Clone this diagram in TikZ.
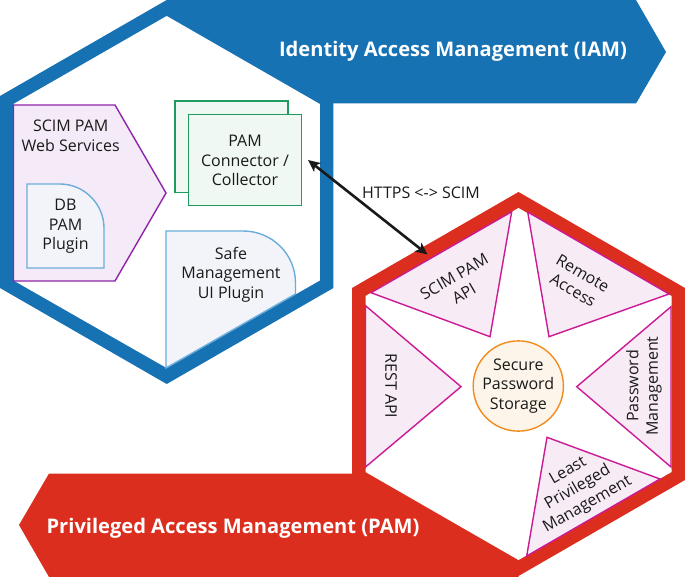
\documentclass[tikz,border=0pt]{standalone}
\usepackage{fontspec}
\setmainfont{Open Sans}
\definecolor{iamblue}{HTML}{1772B4}
\definecolor{pamred}{HTML}{DC2E1F}
\definecolor{magline}{HTML}{CC1A94}
\definecolor{magfill}{HTML}{F7EBF6}
\definecolor{purline}{HTML}{8E24AA}
\definecolor{purfill}{HTML}{F5EAF7}
\definecolor{bluline}{HTML}{6BAEDB}
\definecolor{blufill}{HTML}{F2F4FA}
\definecolor{greline}{HTML}{1F9B5F}
\definecolor{grefill}{HTML}{EFF8F2}
\definecolor{oraline}{HTML}{F28C1E}
\definecolor{orafill}{HTML}{FDF5EA}
\definecolor{inktext}{HTML}{1A1A1A}
\usetikzlibrary{arrows.meta}
\tikzset{
  tri/.style={draw=magline,fill=magfill,line width=1.4pt,line join=miter},
  purshape/.style={draw=purline,fill=purfill,line width=1.4pt},
  plugin/.style={draw=bluline,fill=blufill,line width=1.4pt},
  greenbox/.style={draw=greline,fill=grefill,line width=1.4pt},
  label/.style={text=inktext,align=center,font=\fontsize{16}{19.5}\selectfont,inner sep=0pt},
  title/.style={text=white,font=\fontsize{20.1}{24}\selectfont\bfseries,inner sep=0pt},
  link/.style={draw=black!90,line width=2.6pt,{Stealth[length=12pt,width=11pt,inset=3pt]}-{Stealth[length=12pt,width=11pt,inset=3pt]}}
}
\begin{document}
\begin{tikzpicture}[x=1pt,y=-1pt]
\useasboundingbox (0,0) rectangle (685,577);
% banners
\fill[iamblue] (166.7,0) -- (636,0) -- (666,52) -- (636,103.5) -- (333,103.5) -- (166.7,103.5) -- cycle;
\fill[pamred] (352,473.5) -- (49,473.5) -- (19,525) -- (49,577) -- (518.5,577) -- (518.5,473.5) -- cycle;
% hexagons
\fill[iamblue] (166.7,0) -- (333.4,96) -- (333.4,288) -- (166.7,384) -- (0,288) -- (0,96) -- cycle;
\fill[white] (166.7,16) -- (319.8,104) -- (319.8,280.5) -- (166.7,368) -- (13.5,280.5) -- (13.5,104) -- cycle;
\fill[pamred] (518.5,192) -- (685,288) -- (685,480) -- (518.5,576) -- (352,480) -- (352,288) -- cycle;
\fill[white] (518.5,208) -- (671.5,296) -- (671.5,472) -- (518.5,560) -- (365.5,472) -- (365.5,296) -- cycle;
% left contents
\draw[purshape] (13.5,105) -- (115,105) -- (166,193) -- (115,281) -- (13.5,281) -- cycle;
\draw[plugin] (27,184) -- (60,184) .. controls (84,184) and (104,204) .. (104,228) -- (104,268) -- (27,268) -- cycle;
\draw[plugin] (166,231) -- (243,231) .. controls (272,231) and (295.5,254) .. (295.5,283) -- (295.5,294) -- (166,368) -- cycle;
\draw[greenbox] (175,101) rectangle (288,192.5);
\draw[greenbox] (188.7,114.7) rectangle (301.3,205.7);
\node[label] (webservices) at (70.7,136) {SCIM PAM\\Web Services};
\node[label] (dbplugin) at (65.5,226.5) {DB\\PAM\\Plugin};
\node[label] (safeplugin) at (231,274.5) {Safe\\Management\\UI Plugin};
\node[label] (collector) at (245,160.5) {PAM\\Connector /\\Collector};
% triangles
\draw[tri] (511.7,211.7) -- (371,292.7) -- (490,336.7) -- cycle;
\draw[tri] (527.7,212) -- (669,294) -- (549,336.7) -- cycle;
\draw[tri] (365.5,305.7) -- (461,386.7) -- (365.5,467) -- cycle;
\draw[tri] (671,306.7) -- (576.7,386.7) -- (671,467) -- cycle;
\draw[tri] (547,437.3) -- (660,479) -- (526.7,556) -- cycle;
\node[label,rotate=30] (scimapi) at (459,285) {SCIM PAM\\API};
\node[label,rotate=-30] (remote) at (578,282) {Remote\\Access};
\node[label,rotate=-90] (rest) at (391,386) {REST API};
\node[label,rotate=90] (password) at (644,386) {Password\\Management};
\node[label,rotate=30] (least) at (578,488) {Least\\Privileged\\Management};
% centre circle
\node[circle,draw=oraline,fill=orafill,line width=1.4pt,minimum size=87pt,inner sep=0pt,label,text=inktext] (storage) at (518.3,386) {Secure\\Password\\Storage};
% titles
\node[title] (iamtitle) at (453,51.5) {Identity Access Management (IAM)};
\node[title] (pamtitle) at (233,528.5) {Privileged Access Management (PAM)};
% connector
\coordinate (linkA) at (308,160);
\coordinate (linkB) at (427.5,254.5);
\draw[link] (linkA) -- (linkB);
\node[label] (https) at (421,193) {HTTPS <-> SCIM};
\end{tikzpicture}
\end{document}
